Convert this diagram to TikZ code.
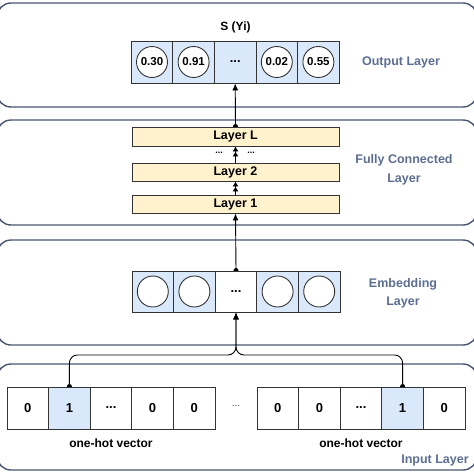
\documentclass[tikz,border=0pt]{standalone}
\usepackage{fontspec}
\setmainfont{Liberation Sans}
\usetikzlibrary{arrows.meta}
\pgfdeclarelayer{bg}
\pgfsetlayers{bg,main}
\definecolor{panelc}{HTML}{4A5670}
\definecolor{labelc}{HTML}{5C6E91}
\definecolor{bluef}{HTML}{DAE8FC}
\definecolor{yellowf}{HTML}{FFF2CC}
\definecolor{edgec}{HTML}{333333}
\begin{document}
\begin{tikzpicture}[x=1pt,y=-1pt,
 panel/.style={draw=panelc,line width=1.4pt,rounded corners=14pt},
 cellbox/.style={draw=edgec,line width=0.9pt,minimum width=41.6pt,minimum height=42pt,inner sep=0pt,font=\bfseries\fontsize{13}{15}\selectfont},
 bluecell/.style={cellbox,fill=bluef},
 whitecell/.style={cellbox,fill=white},
 valcirc/.style={circle,draw=edgec,line width=0.9pt,minimum size=31pt,inner sep=0pt,fill=white,font=\bfseries\fontsize{11.5}{13}\selectfont},
 fcbox/.style={draw=edgec,line width=0.9pt,fill=yellowf,minimum width=207pt,inner sep=0pt,font=\bfseries\fontsize{12.5}{14}\selectfont},
 lbl/.style={text=labelc,font=\bfseries\fontsize{12.5}{18.5}\selectfont,align=center},
 txt/.style={font=\bfseries\fontsize{12}{14}\selectfont},
 conn/.style={draw=black,line width=0.9pt},
 dottip/.style={shorten <=-2.5pt},
]
\useasboundingbox (0,0) rectangle (474,474);

% Output layer
\node[txt] (title) at (235.5,27) {S (Yi)};
\node[bluecell] (o1) at (152,62) {};
\node[bluecell] (o2) at (193.6,62) {};
\node[bluecell] (o3) at (235.2,62) {...};
\node[bluecell] (o4) at (276.8,62) {};
\node[bluecell] (o5) at (318.4,62) {};
\node[valcirc] (c1) at (o1) {0.30};
\node[valcirc] (c2) at (o2) {0.91};
\node[valcirc] (c4) at (o4) {0.02};
\node[valcirc] (c5) at (o5) {0.55};
\node[lbl] (outlbl) at (401,62) {Output Layer};

% Fully connected
\node[fcbox,minimum height=19pt] (lL) at (235.5,136.5) {Layer L};
\node[fcbox,minimum height=18pt] (l2) at (235.5,172) {Layer 2};
\node[fcbox,minimum height=18pt] (l1) at (235.5,204) {Layer 1};
\node[txt,font=\bfseries\fontsize{9}{10}\selectfont] (d1) at (219,153) {...};
\node[txt,font=\bfseries\fontsize{9}{10}\selectfont] (d2) at (251,153) {...};
\node[lbl] (fclbl) at (404,170) {Fully Connected\\Layer};

% Embedding
\node[bluecell,minimum height=41pt] (e1) at (152.8,291.5) {};
\node[bluecell,minimum height=41pt] (e2) at (194.4,291.5) {};
\node[whitecell,minimum height=41pt] (e3) at (236,291.5) {...};
\node[bluecell,minimum height=41pt] (e4) at (277.6,291.5) {};
\node[bluecell,minimum height=41pt] (e5) at (319.2,291.5) {};
\node[valcirc] (ec1) at (e1) {};
\node[valcirc] (ec2) at (e2) {};
\node[valcirc] (ec4) at (e4) {};
\node[valcirc] (ec5) at (e5) {};
\node[lbl] (emblbl) at (403,293.5) {Embedding\\Layer};

% Input
\node[whitecell] (i1) at (27.8,408) {0};
\node[bluecell] (i2) at (69.4,408) {1};
\node[whitecell] (i3) at (111,408) {...};
\node[whitecell] (i4) at (152.6,408) {0};
\node[whitecell] (i5) at (194.2,408) {0};
\node[font=\fontsize{10}{12}\selectfont,text=edgec] (gap) at (236,406) {...};
\node[whitecell] (i6) at (277.8,408) {0};
\node[whitecell] (i7) at (319.4,408) {0};
\node[whitecell] (i8) at (361,408) {...};
\node[bluecell] (i9) at (402.6,408) {1};
\node[whitecell] (i10) at (444.2,408) {0};
\node[txt] (v1) at (111,443) {one-hot vector};
\node[txt] (v2) at (361,443) {one-hot vector};
\node[lbl] (inlbl) at (435,460) {Input Layer};

\coordinate (j) at (236,355);

\begin{pgfonlayer}{bg}
\draw[panel] (-3,3) rectangle (477,107);
\draw[panel] (-3,120) rectangle (477,225);
\draw[panel] (-3,240) rectangle (477,345);
\draw[panel] (-3,364) rectangle (477,470);
\draw[conn,{Circle[length=5pt]}-{Latex[length=7pt,width=6pt]},dottip] (lL.north) -- (o3.south);
\draw[conn,-{Latex[length=5pt,width=6pt] Latex[length=5pt,width=6pt]}] (l2.north) -- (lL.south);
\draw[conn,-{Latex[length=5pt,width=6pt] Latex[length=5pt,width=6pt]}] (l1.north) -- (l2.south);
\draw[conn,{Circle[length=5pt]}-{Latex[length=7pt,width=6pt]},dottip] (e3.north) -- (l1.south);
\draw[conn,{Circle[length=5pt]}-{Latex[length=7pt,width=6pt]},dottip,rounded corners=8pt] (i2.north) |- (j) -- (e3.south);
\draw[conn,{Circle[length=5pt]}-{Latex[length=7pt,width=6pt]},dottip,rounded corners=8pt] (i9.north) |- (j) -- (e3.south);
\end{pgfonlayer}
\end{tikzpicture}
\end{document}
